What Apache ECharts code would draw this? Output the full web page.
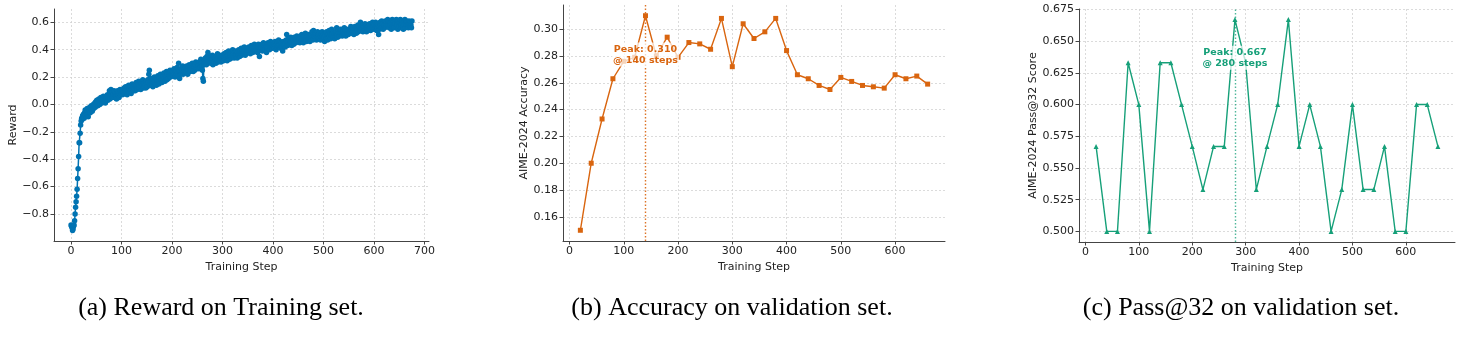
<!DOCTYPE html>
<html><head><meta charset="utf-8">
<script src="https://cdn.jsdelivr.net/npm/echarts@6/dist/echarts.min.js"></script>
<style>html,body{margin:0;padding:0;background:#fff}#c{width:1468px;height:359px}</style>
</head><body><div id="c"></div>
<script>
// (a) reward per training step (step = index 0..675)
const rewardValues = [
-0.88,-0.89,-0.90,-0.92,-0.91,-0.89,-0.88,-0.85,-0.80,-0.75,-0.71,-0.67,-0.62,-0.54,-0.47,-0.38,-0.28,-0.28,-0.21,-0.15,-0.12,-0.10,-0.11,-0.08,-0.09,
-0.07,-0.10,-0.06,-0.04,-0.08,-0.05,-0.07,-0.03,-0.06,-0.09,-0.04,-0.05,-0.02,-0.06,-0.03,-0.01,-0.04,-0.05,-0.02,0.00,-0.03,-0.01,0.01,-0.02,0.02,
0.00,0.03,0.01,-0.01,0.02,0.04,0.01,0.00,0.03,0.05,0.02,0.01,0.04,0.03,0.06,0.02,0.04,0.05,0.01,0.03,0.06,0.04,0.07,0.03,0.05,
0.06,0.10,0.04,0.08,0.11,0.07,0.05,0.09,0.06,0.08,0.10,0.05,0.07,0.09,0.06,0.04,0.08,0.10,0.07,0.09,0.05,0.08,0.11,0.07,0.09,
0.08,0.10,0.07,0.11,0.09,0.12,0.08,0.10,0.13,0.09,0.11,0.07,0.12,0.10,0.14,0.09,0.11,0.13,0.10,0.08,0.12,0.15,0.11,0.13,0.10,
0.12,0.14,0.10,0.13,0.16,0.12,0.11,0.15,0.13,0.17,0.12,0.14,0.16,0.11,0.15,0.13,0.14,0.18,0.12,0.15,0.13,0.16,0.14,0.12,0.17,
0.15,0.13,0.18,0.16,0.22,0.25,0.17,0.14,0.16,0.19,0.15,0.17,0.13,0.18,0.16,0.20,0.15,0.17,0.19,0.14,0.18,0.16,0.21,0.17,0.15,
0.19,0.17,0.22,0.18,0.20,0.16,0.19,0.21,0.18,0.23,0.19,0.17,0.21,0.20,0.24,0.18,0.22,0.20,0.19,0.23,0.21,0.25,0.20,0.22,0.24,
0.22,0.24,0.21,0.23,0.26,0.22,0.20,0.24,0.25,0.22,0.27,0.23,0.21,0.30,0.25,0.19,0.24,0.22,0.26,0.23,0.25,0.28,0.22,0.24,0.26,
0.25,0.23,0.27,0.24,0.28,0.26,0.22,0.27,0.25,0.29,0.26,0.24,0.28,0.25,0.27,0.30,0.26,0.24,0.28,0.27,0.25,0.29,0.31,0.26,0.28,
0.27,0.30,0.28,0.26,0.31,0.29,0.27,0.33,0.30,0.28,0.25,0.19,0.17,0.29,0.32,0.30,0.34,0.31,0.29,0.35,0.33,0.38,0.36,0.31,0.34,
0.32,0.30,0.34,0.31,0.33,0.36,0.29,0.33,0.35,0.31,0.34,0.32,0.30,0.35,0.33,0.37,0.31,0.34,0.32,0.36,0.33,0.35,0.31,0.34,0.36,
0.33,0.35,0.32,0.37,0.34,0.36,0.33,0.38,0.35,0.32,0.36,0.34,0.39,0.35,0.33,0.37,0.35,0.38,0.34,0.36,0.40,0.35,0.37,0.34,0.38,
0.36,0.39,0.35,0.37,0.34,0.38,0.36,0.40,0.37,0.35,0.39,0.37,0.41,0.36,0.38,0.40,0.37,0.39,0.42,0.38,0.36,0.40,0.38,0.41,0.39,
0.40,0.38,0.42,0.39,0.41,0.37,0.40,0.43,0.39,0.41,0.38,0.42,0.40,0.44,0.39,0.41,0.43,0.40,0.42,0.38,0.41,0.44,0.40,0.35,0.42,
0.40,0.43,0.41,0.44,0.39,0.42,0.45,0.41,0.43,0.40,0.44,0.42,0.38,0.43,0.41,0.45,0.42,0.44,0.40,0.43,0.46,0.42,0.44,0.41,0.43,
0.45,0.42,0.44,0.41,0.46,0.43,0.40,0.44,0.42,0.45,0.43,0.47,0.42,0.44,0.46,0.41,0.43,0.45,0.42,0.39,0.44,0.46,0.43,0.45,0.42,
0.44,0.47,0.51,0.45,0.43,0.46,0.48,0.44,0.47,0.45,0.49,0.46,0.43,0.48,0.45,0.47,0.44,0.49,0.46,0.48,0.45,0.47,0.50,0.46,0.48,
0.46,0.49,0.47,0.45,0.50,0.48,0.46,0.51,0.47,0.49,0.45,0.48,0.50,0.47,0.52,0.48,0.46,0.50,0.49,0.47,0.51,0.48,0.50,0.46,0.49,
0.51,0.48,0.53,0.49,0.47,0.54,0.50,0.48,0.52,0.49,0.51,0.47,0.50,0.53,0.49,0.51,0.48,0.52,0.50,0.47,0.51,0.49,0.53,0.50,0.48,
0.51,0.49,0.46,0.52,0.50,0.48,0.53,0.50,0.47,0.51,0.49,0.54,0.50,0.52,0.48,0.51,0.55,0.50,0.52,0.49,0.53,0.51,0.48,0.52,0.50,
0.53,0.56,0.51,0.49,0.54,0.52,0.50,0.53,0.55,0.51,0.54,0.52,0.50,0.55,0.53,0.51,0.56,0.52,0.54,0.50,0.53,0.55,0.52,0.54,0.51,
0.54,0.52,0.55,0.53,0.57,0.52,0.54,0.56,0.53,0.55,0.51,0.54,0.57,0.53,0.55,0.52,0.56,0.54,0.58,0.53,0.55,0.57,0.54,0.60,0.56,
0.54,0.57,0.55,0.53,0.58,0.56,0.54,0.59,0.55,0.57,0.53,0.56,0.58,0.54,0.57,0.55,0.59,0.56,0.54,0.58,0.55,0.57,0.60,0.56,0.58,
0.55,0.58,0.56,0.60,0.57,0.54,0.59,0.56,0.58,0.51,0.57,0.55,0.60,0.58,0.56,0.61,0.57,0.59,0.55,0.60,0.58,0.56,0.61,0.59,0.57,
0.60,0.58,0.62,0.57,0.59,0.56,0.61,0.58,0.60,0.55,0.59,0.62,0.57,0.60,0.58,0.56,0.61,0.59,0.57,0.62,0.60,0.58,0.55,0.61,0.59,
0.57,0.60,0.62,0.58,0.56,0.61,0.59,0.57,0.55,0.60,0.58,0.62,0.56,0.59,0.61,0.57,0.60,0.58,0.56,0.61,0.59,0.57,0.60,0.58,0.56,0.61
];
// (b), (c) validation steps and scores
const valSteps = [20,40,60,80,100,120,140,160,180,200,220,240,260,280,300,320,340,360,380,400,420,440,460,480,500,520,540,560,580,600,620,640,660];
const accuracyValues = [0.150,0.200,0.233,0.263,0.276,0.279,0.310,0.280,0.294,0.279,0.290,0.289,0.285,0.308,0.272,0.304,0.293,0.298,0.308,0.284,0.266,0.263,0.258,0.255,0.264,0.261,0.258,0.257,0.256,0.266,0.263,0.265,0.259];
const pass32Values = [0.567,0.500,0.500,0.633,0.600,0.500,0.633,0.633,0.600,0.567,0.533,0.567,0.567,0.667,0.633,0.533,0.567,0.600,0.667,0.567,0.600,0.567,0.500,0.533,0.600,0.533,0.533,0.567,0.500,0.500,0.600,0.600,0.567];
// tick labels
const xTicksA = [0,100,200,300,400,500,600,700];
const xTicksBC = [0,100,200,300,400,500,600];
const yTicksA = [-0.8,-0.6,-0.4,-0.2,0.0,0.2,0.4,0.6];
const yTicksB = [0.16,0.18,0.20,0.22,0.24,0.26,0.28,0.30];
const yTicksC = [0.500,0.525,0.550,0.575,0.600,0.625,0.650,0.675];
const captions = ['(a) Reward on Training set.','(b) Accuracy on validation set.','(c) Pass@32 on validation set.'];

const BLUE = '#0173B2', ORANGE = '#D9650F', GREEN = '#16A079';
const FONT = 'DejaVu Sans';

function pad(arr){const mn=Math.min(...arr), mx=Math.max(...arr), m=(mx-mn)*0.05; return [mn-m, mx+m];}
const rewardSteps = rewardValues.map((v,i)=>i);

function xAx(gi, range, ticks, gap){
  return {type:'value', gridIndex:gi, min:range[0], max:range[1],
    name:'Training Step', nameLocation:'middle', nameGap:gap,
    nameTextStyle:{fontFamily:FONT, fontSize:11, color:'#222'},
    axisLine:{show:true, onZero:false, lineStyle:{color:'#444', width:1}},
    axisTick:{show:true, customValues:ticks, length:3.5, lineStyle:{color:'#444'}},
    axisLabel:{customValues:ticks, fontFamily:FONT, fontSize:11, color:'#222', margin:5},
    splitLine:{show:true, lineStyle:{color:'#d2d2d2', type:[2,2], width:0.8}}};
}
function yAx(gi, range, ticks, name, gap, dec){
  return {type:'value', gridIndex:gi, min:range[0], max:range[1],
    name:name, nameLocation:'middle', nameGap:gap,
    nameTextStyle:{fontFamily:FONT, fontSize:11, color:'#222'},
    axisLine:{show:true, onZero:false, lineStyle:{color:'#444', width:1}},
    axisTick:{show:true, customValues:ticks, length:3.5, lineStyle:{color:'#444'}},
    axisLabel:{customValues:ticks, fontFamily:FONT, fontSize:11, color:'#222', margin:5,
      formatter:v=>v.toFixed(dec).replace('-','\u2212')},
    splitLine:{show:true, lineStyle:{color:'#d2d2d2', type:[2,2], width:0.8}}};
}

function peakOf(vals){let bi=0; vals.forEach((v,i)=>{if(v>vals[bi]) bi=i;}); return {step:valSteps[bi], value:vals[bi]};}
const peakB = peakOf(accuracyValues), peakC = peakOf(pass32Values);

function valSeries(idx, vals, color, symbol, peak, labelY, lineAlpha){
  return {type:'line', xAxisIndex:idx, yAxisIndex:idx,
    data: valSteps.map((s,i)=>[s, vals[i]]),
    symbol:symbol, symbolSize:5, color:color,
    lineStyle:{width:1.4, color:color}, itemStyle:{color:color},
    markLine:{silent:true, symbol:'none', label:{show:false},
      lineStyle:{type:[1.5,2], color:color, width:1.4, opacity:lineAlpha},
      emphasis:{disabled:true},
      data:[{xAxis:peak.step, lineStyle:{color:color}}]},
    markPoint:{symbol:'circle', symbolSize:0, silent:true,
      data:[{coord:[peak.step, labelY]}],
      label:{show:true, position:'inside', formatter:'Peak: '+peak.value.toFixed(3)+'\n@ '+peak.step+' steps',
        fontFamily:FONT, fontWeight:'bold', fontSize:9.5, lineHeight:11, color:color,
        backgroundColor:'rgba(255,255,255,0.72)', padding:[1,1]}}
  };
}

const chart = echarts.init(document.getElementById('c'), null, {renderer:'canvas'});
chart.setOption({
  animation:false,
  backgroundColor:'#fff',
  grid:[
    {left:54, top:9, width:375, height:232},
    {left:563, top:5, width:382, height:236},
    {left:1079, top:9, width:376, height:233}
  ],
  xAxis:[xAx(0, pad(rewardSteps), xTicksA, 19), xAx(1, pad(valSteps), xTicksBC, 19), xAx(2, pad(valSteps), xTicksBC, 19)],
  yAxis:[yAx(0, pad(rewardValues), yTicksA, 'Reward', 30, 1),
         yAx(1, pad(accuracyValues), yTicksB, 'AIME-2024 Accuracy', 31, 2),
         yAx(2, pad(pass32Values), yTicksC, 'AIME-2024 Pass@32 Score', 40, 3)],
  series:[
    {type:'line', xAxisIndex:0, yAxisIndex:0, data:rewardValues.map((v,i)=>[rewardSteps[i], v]),
     symbol:'circle', symbolSize:5.5, color:BLUE, lineStyle:{width:1.5, color:BLUE}, itemStyle:{color:BLUE}},
    valSeries(1, accuracyValues, ORANGE, 'rect', peakB, 0.281, 0.9),
    valSeries(2, pass32Values, GREEN, 'triangle', peakC, 0.637, 0.75)
  ],
  graphic:[
    {type:'text', x:221, y:308, style:{text:captions[0], font:'26px "Liberation Serif"', fill:'#000', textAlign:'center', textVerticalAlign:'middle'}},
    {type:'text', x:732, y:308, style:{text:captions[1], font:'26px "Liberation Serif"', fill:'#000', textAlign:'center', textVerticalAlign:'middle'}},
    {type:'text', x:1241, y:308, style:{text:captions[2], font:'26px "Liberation Serif"', fill:'#000', textAlign:'center', textVerticalAlign:'middle'}}
  ]
});
</script></body></html>
